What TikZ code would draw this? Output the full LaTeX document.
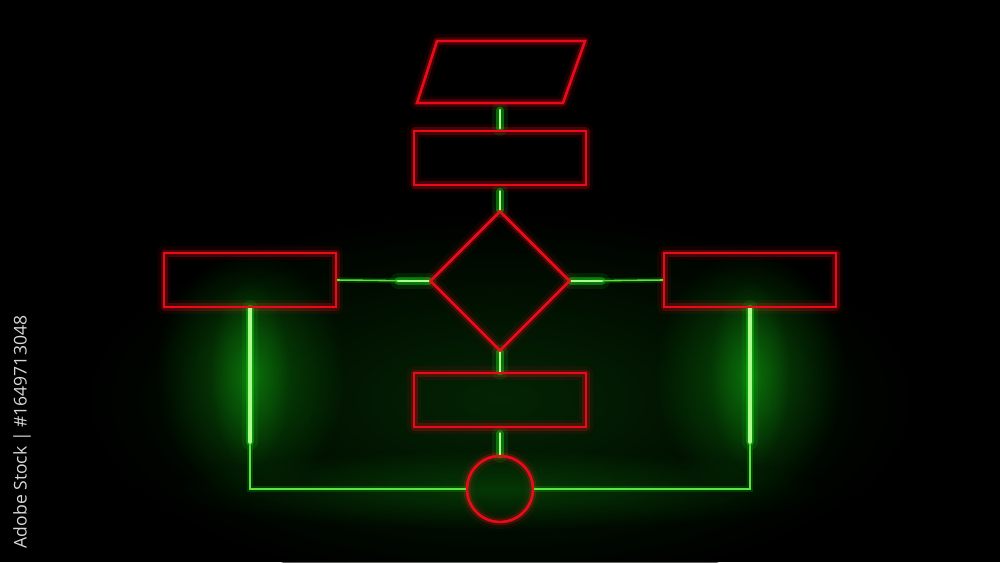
\documentclass[tikz,border=0pt]{standalone}
\usepackage{fontspec}
\newfontfamily\idfont{Open Sans}
\usetikzlibrary{shapes.geometric,fadings}
\definecolor{neonred}{RGB}{235,10,25}
\definecolor{neongreen}{RGB}{90,230,60}
\definecolor{brightgreen}{RGB}{170,255,140}
\definecolor{glowgreen}{RGB}{20,200,20}
\definecolor{idgray}{RGB}{215,215,215}
\tikzfading[name=softglow, inner color=transparent!0, outer color=transparent!100]
\tikzset{
  redshape/.style={draw=neonred, line width=1.3pt, inner sep=0pt,
    preaction={draw=neonred, line width=4pt, draw opacity=0.25, line cap=round, line join=round},
    preaction={draw=neonred, line width=8pt, draw opacity=0.08, line cap=round, line join=round}},
  boxnode/.style={redshape, rectangle, minimum width=3.44cm, minimum height=1.08cm},
  thinwire/.style={draw=neongreen, line width=0.9pt,
    preaction={draw=glowgreen, line width=3pt, draw opacity=0.2}},
  brightwire/.style={draw=brightgreen, line width=1.6pt, line cap=round,
    preaction={draw=glowgreen, line width=4pt, draw opacity=0.45, line cap=round},
    preaction={draw=glowgreen, line width=9pt, draw opacity=0.12, line cap=round}},
  haze/.style={fill=glowgreen, path fading=softglow, fill opacity=0.35, draw=none}
}
\begin{document}
\begin{tikzpicture}[x=0.02cm, y=-0.02cm]
\fill[black] (0,0) rectangle (1000,562);
\useasboundingbox (0,0) rectangle (1000,562);
% soft background haze
\shade[inner color=glowgreen!30!black, outer color=black, opacity=0.6] (500,400) ellipse [x radius=420, y radius=190];

% nodes
\coordinate (inB) at (500,103);
\draw[redshape, line join=miter] (437,41) -- (585,41) -- (563,103) -- (417,103) -- cycle;
\node[boxnode] (proc1) at (500,158) {};
\node[redshape, diamond, minimum width=2.8cm, minimum height=2.8cm] (dec) at (500,281) {};
\node[boxnode] (left) at (250,280) {};
\node[boxnode] (right) at (750,280) {};
\node[boxnode] (proc2) at (500,400) {};
\node[redshape, circle, minimum size=1.32cm] (term) at (500,489) {};

\coordinate (lb) at (250,442);
\coordinate (rb) at (750,442);
\coordinate (ld) at (398,281);
\coordinate (rd) at (602,281);

% glow halos around the side risers and the bottom line
\path[haze] (250,375) ellipse [x radius=95, y radius=125];
\path[haze] (750,375) ellipse [x radius=95, y radius=125];
\path[haze, fill opacity=0.3] (250,375) ellipse [x radius=40, y radius=95];
\path[haze, fill opacity=0.3] (750,375) ellipse [x radius=40, y radius=95];
\path[haze, fill opacity=0.2] (500,490) ellipse [x radius=330, y radius=40];

% thin wires
\draw[thinwire] (left.south) |- (term.west);
\draw[thinwire] (right.south) |- (term.east);
\draw[thinwire] (left.east) -- (dec.west);
\draw[thinwire] (right.west) -- (dec.east);

% bright segments
\draw[brightwire] ([yshift=-4pt]inB) -- ([yshift=1pt]proc1.north);
\draw[brightwire] ([yshift=-3pt]proc1.south) -- (dec.north);
\draw[brightwire] (dec.south) -- (proc2.north);
\draw[brightwire] ([yshift=-3pt]proc2.south) -- (term.north);
\draw[brightwire] (ld) -- (dec.west);
\draw[brightwire] (rd) -- (dec.east);
\draw[brightwire, line width=2pt] (left.south) -- (lb);
\draw[brightwire, line width=2pt] (right.south) -- (rb);

% redraw shapes on top
\draw[draw=neonred, line width=1.3pt, line join=miter] (437,41) -- (585,41) -- (563,103) -- (417,103) -- cycle;
\node[draw=neonred, line width=1.3pt, minimum width=3.44cm, minimum height=1.08cm, inner sep=0pt] (proc1b) at (proc1) {};
\node[draw=neonred, line width=1.3pt, diamond, minimum width=2.8cm, minimum height=2.8cm, inner sep=0pt] (decb) at (dec) {};
\node[draw=neonred, line width=1.3pt, minimum width=3.44cm, minimum height=1.08cm, inner sep=0pt] (leftb) at (left) {};
\node[draw=neonred, line width=1.3pt, minimum width=3.44cm, minimum height=1.08cm, inner sep=0pt] (rightb) at (right) {};
\node[draw=neonred, line width=1.3pt, minimum width=3.44cm, minimum height=1.08cm, inner sep=0pt] (proc2b) at (proc2) {};
\node[draw=neonred, line width=1.3pt, circle, minimum size=1.32cm, inner sep=0pt] (termb) at (term) {};

% stock id
\node[rotate=90, text=idgray, font=\idfont\fontsize{10}{12}\selectfont, inner sep=0pt] (stockid) at (22,432) {Adobe Stock | \#1649713048};
\end{tikzpicture}
\end{document}
